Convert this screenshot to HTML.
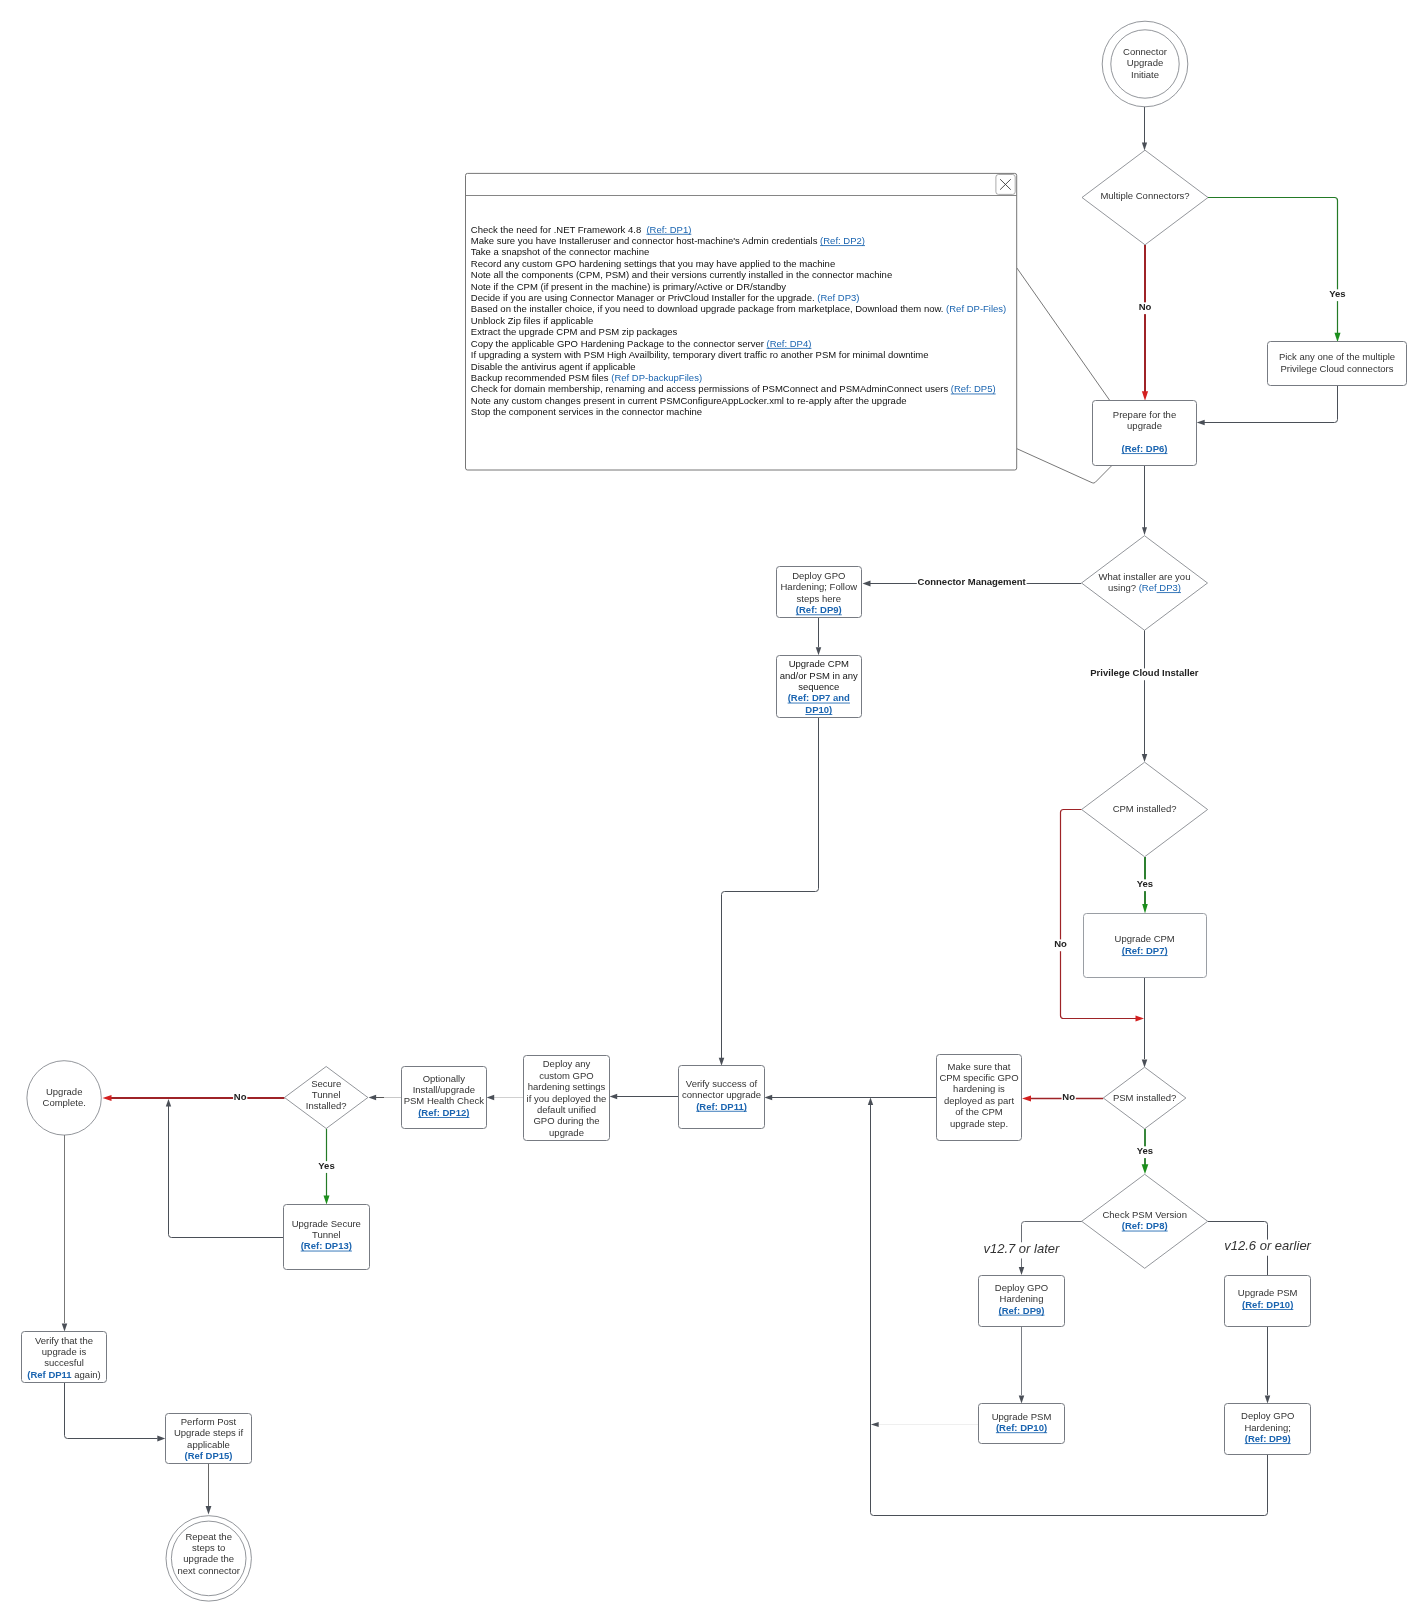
<!DOCTYPE html>
<html><head><meta charset="utf-8"><title>Connector Upgrade Flow</title>
<style>
html,body{margin:0;padding:0;background:#fff;}
body{width:1428px;height:1623px;overflow:hidden;}
*{text-decoration-skip-ink:none !important;text-decoration-skip:none;}
svg{display:block;font-family:"Liberation Sans",sans-serif;will-change:transform;}
</style></head><body>
<svg width="1428" height="1623" viewBox="0 0 1428 1623">
<rect width="1428" height="1623" fill="#fff"/>
<path d="M1144.50,106.80 L1144.50,143.00" fill="none" stroke="#4a4f57" stroke-width="1"/>
<polygon points="1144.50,150.60 1141.90,142.60 1147.10,142.60" fill="#4a4f57"/>
<path d="M1145.00,245.00 L1145.00,392.00" fill="none" stroke="#9e2327" stroke-width="2"/>
<polygon points="1145.00,400.80 1141.90,391.30 1148.10,391.30" fill="#d42020"/>
<rect x="1137.87" y="302.32" width="14.26" height="11.80" fill="#fff"/>
<text x="1145" y="309.92" text-anchor="middle" font-size="9.5" fill="#222" font-weight="bold">No</text>
<path d="M1207.80,197.50 L1334.50,197.50 Q1337.50,197.50 1337.50,200.50 L1337.50,334.00" fill="none" stroke="#237a26" stroke-width="1.2"/>
<polygon points="1337.50,342.20 1334.50,332.70 1340.50,332.70" fill="#1c8f1c"/>
<rect x="1328.41" y="289.32" width="17.98" height="11.80" fill="#fff"/>
<text x="1337.4" y="296.92" text-anchor="middle" font-size="9.5" fill="#222" font-weight="bold">Yes</text>
<path d="M1337.50,385.20 L1337.50,419.50 Q1337.50,422.50 1334.50,422.50 L1204.00,422.50" fill="none" stroke="#4a4f57" stroke-width="1"/>
<polygon points="1196.70,422.50 1204.70,419.75 1204.70,425.25" fill="#4a4f57"/>
<path d="M1144.50,465.00 L1144.50,528.00" fill="none" stroke="#4a4f57" stroke-width="1"/>
<polygon points="1144.50,535.30 1142.00,527.30 1147.00,527.30" fill="#4a4f57"/>
<path d="M1081.20,583.50 L869.00,583.50" fill="none" stroke="#4a4f57" stroke-width="1"/>
<polygon points="862.50,583.50 870.50,580.55 870.50,586.45" fill="#4a4f57"/>
<rect x="916.80" y="577.82" width="109.80" height="11.80" fill="#fff"/>
<text x="971.7" y="585.42" text-anchor="middle" font-size="9.5" fill="#222" font-weight="bold">Connector Management</text>
<path d="M1144.50,630.20 L1144.50,754.00" fill="none" stroke="#4a4f57" stroke-width="1"/>
<polygon points="1144.50,762.00 1141.75,754.00 1147.25,754.00" fill="#4a4f57"/>
<rect x="1089.49" y="668.42" width="109.82" height="11.80" fill="#fff"/>
<text x="1144.4" y="676.02" text-anchor="middle" font-size="9.5" fill="#222" font-weight="bold">Privilege Cloud Installer</text>
<path d="M818.50,617.60 L818.50,647.00" fill="none" stroke="#4a4f57" stroke-width="1"/>
<polygon points="818.50,655.30 815.75,647.30 821.25,647.30" fill="#4a4f57"/>
<path d="M818.50,717.20 L818.50,888.50 Q818.50,891.50 815.50,891.50 L724.50,891.50 Q721.50,891.50 721.50,894.50 L721.50,1058.00" fill="none" stroke="#4a4f57" stroke-width="1"/>
<polygon points="721.50,1065.70 718.75,1057.70 724.25,1057.70" fill="#4a4f57"/>
<path d="M1145.00,857.00 L1145.00,904.00" fill="none" stroke="#237a26" stroke-width="1.9"/>
<polygon points="1145.00,913.40 1142.20,903.90 1147.80,903.90" fill="#1c8f1c"/>
<rect x="1135.91" y="879.32" width="17.98" height="11.80" fill="#fff"/>
<text x="1144.9" y="886.92" text-anchor="middle" font-size="9.5" fill="#222" font-weight="bold">Yes</text>
<path d="M1081.60,809.50 L1063.50,809.50 Q1060.50,809.50 1060.50,812.50 L1060.50,1015.50 Q1060.50,1018.50 1063.50,1018.50 L1136.00,1018.50" fill="none" stroke="#9e2327" stroke-width="1.2"/>
<polygon points="1144.00,1018.50 1135.50,1015.40 1135.50,1021.60" fill="#d42020"/>
<rect x="1053.37" y="939.42" width="14.26" height="11.80" fill="#fff"/>
<text x="1060.5" y="947.02" text-anchor="middle" font-size="9.5" fill="#222" font-weight="bold">No</text>
<path d="M1144.50,977.00 L1144.50,1059.00" fill="none" stroke="#4a4f57" stroke-width="1"/>
<polygon points="1144.50,1067.40 1141.75,1059.40 1147.25,1059.40" fill="#4a4f57"/>
<path d="M1103.20,1098.50 L1030.00,1098.50" fill="none" stroke="#9e2327" stroke-width="1.3"/>
<polygon points="1022.00,1098.50 1031.00,1095.40 1031.00,1101.60" fill="#d42020"/>
<rect x="1061.57" y="1092.42" width="14.26" height="11.80" fill="#fff"/>
<text x="1068.7" y="1100.02" text-anchor="middle" font-size="9.5" fill="#222" font-weight="bold">No</text>
<path d="M1145.00,1128.70 L1145.00,1165.00" fill="none" stroke="#237a26" stroke-width="1.8"/>
<polygon points="1145.00,1174.00 1141.65,1164.20 1148.35,1164.20" fill="#1c8f1c"/>
<rect x="1135.91" y="1146.32" width="17.98" height="11.80" fill="#fff"/>
<text x="1144.9" y="1153.92" text-anchor="middle" font-size="9.5" fill="#222" font-weight="bold">Yes</text>
<path d="M1081.80,1221.50 L1024.50,1221.50 Q1021.50,1221.50 1021.50,1224.50 L1021.50,1267.00" fill="none" stroke="#6a6e75" stroke-width="1"/>
<polygon points="1021.50,1275.10 1018.75,1267.10 1024.25,1267.10" fill="#4a4f57"/>
<rect x="982.47" y="1242.28" width="77.87" height="16.15" fill="#fff"/>
<text x="1021.4" y="1252.68" text-anchor="middle" font-size="13" fill="#333" font-style="italic">v12.7 or later</text>
<path d="M1207.80,1221.50 L1264.50,1221.50 Q1267.50,1221.50 1267.50,1224.50 L1267.50,1275.10" fill="none" stroke="#4a4f57" stroke-width="1"/>
<rect x="1223.25" y="1239.58" width="88.70" height="16.15" fill="#fff"/>
<text x="1267.6" y="1249.98" text-anchor="middle" font-size="13" fill="#333" font-style="italic">v12.6 or earlier</text>
<path d="M1021.50,1326.20 L1021.50,1395.00" fill="none" stroke="#7a7e85" stroke-width="1"/>
<polygon points="1021.50,1403.40 1018.75,1395.40 1024.25,1395.40" fill="#4a4f57"/>
<path d="M1267.50,1326.20 L1267.50,1395.00" fill="none" stroke="#4a4f57" stroke-width="1"/>
<polygon points="1267.50,1403.40 1264.75,1395.40 1270.25,1395.40" fill="#4a4f57"/>
<path d="M1267.50,1454.50 L1267.50,1512.50 Q1267.50,1515.50 1264.50,1515.50 L873.50,1515.50 Q870.50,1515.50 870.50,1512.50 L870.50,1105.00" fill="none" stroke="#4a4f57" stroke-width="1"/>
<polygon points="870.50,1097.50 867.80,1105.10 873.20,1105.10" fill="#4a4f57"/>
<path d="M978.40,1424.50 L879.00,1424.50" fill="none" stroke="#efefef" stroke-width="1"/>
<polygon points="870.90,1424.50 878.70,1422.00 878.70,1427.00" fill="#4a4f57"/>
<path d="M936.20,1097.50 L772.00,1097.50" fill="none" stroke="#4a4f57" stroke-width="1"/>
<polygon points="764.40,1097.50 772.20,1094.75 772.20,1100.25" fill="#4a4f57"/>
<path d="M678.70,1096.50 L617.00,1096.50" fill="none" stroke="#4a4f57" stroke-width="1"/>
<polygon points="609.60,1096.50 617.20,1093.80 617.20,1099.20" fill="#4a4f57"/>
<path d="M523.40,1097.50 L494.00,1097.50" fill="none" stroke="#d0d0d0" stroke-width="1"/>
<polygon points="486.60,1097.50 494.20,1094.80 494.20,1100.20" fill="#4a4f57"/>
<path d="M401.10,1097.50 L376.00,1097.50" fill="none" stroke="#c8c8c8" stroke-width="1"/>
<path d="M384.00,1097.50 L374.00,1097.50" fill="none" stroke="#555" stroke-width="1"/>
<polygon points="368.50,1097.50 376.10,1094.80 376.10,1100.20" fill="#4a4f57"/>
<path d="M284.50,1098.00 L111.00,1098.00" fill="none" stroke="#9e2327" stroke-width="2"/>
<polygon points="102.50,1098.00 111.50,1094.90 111.50,1101.10" fill="#d42020"/>
<rect x="233.07" y="1092.42" width="14.26" height="11.80" fill="#fff"/>
<text x="240.2" y="1100.02" text-anchor="middle" font-size="9.5" fill="#222" font-weight="bold">No</text>
<path d="M326.50,1128.60 L326.50,1196.00" fill="none" stroke="#237a26" stroke-width="1.2"/>
<polygon points="326.50,1204.60 323.50,1195.60 329.50,1195.60" fill="#1c8f1c"/>
<rect x="317.51" y="1161.12" width="17.98" height="11.80" fill="#fff"/>
<text x="326.5" y="1168.72" text-anchor="middle" font-size="9.5" fill="#222" font-weight="bold">Yes</text>
<path d="M283.30,1237.50 L171.50,1237.50 Q168.50,1237.50 168.50,1234.50 L168.50,1106.00" fill="none" stroke="#4a4f57" stroke-width="1"/>
<polygon points="168.50,1099.00 165.80,1106.60 171.20,1106.60" fill="#4a4f57"/>
<path d="M64.50,1135.00 L64.50,1323.00" fill="none" stroke="#777" stroke-width="1"/>
<polygon points="64.50,1331.40 61.75,1323.40 67.25,1323.40" fill="#4a4f57"/>
<path d="M64.50,1382.40 L64.50,1435.50 Q64.50,1438.50 67.50,1438.50 L157.50,1438.50" fill="none" stroke="#4a4f57" stroke-width="1"/>
<polygon points="165.30,1438.50 157.30,1435.55 157.30,1441.45" fill="#4a4f57"/>
<path d="M208.50,1464.00 L208.50,1507.00" fill="none" stroke="#666" stroke-width="1"/>
<polygon points="208.50,1514.60 205.60,1506.10 211.40,1506.10" fill="#4a4f57"/>
<path d="M1016.90,268.00 L1109.80,400.50" fill="none" stroke="#555" stroke-width="0.8"/>
<path d="M1016.70,448.60 L1092.18,482.78 Q1094.00,483.60 1095.41,482.18 L1111.70,465.70" fill="none" stroke="#555" stroke-width="0.8"/>
<circle cx="1145" cy="64" r="42.8" fill="#fff" stroke="#777b82" stroke-width="0.8"/>
<circle cx="1145" cy="64" r="34.2" fill="#fff" stroke="#777b82" stroke-width="0.8"/>
<text x="1145" y="55.00" text-anchor="middle" font-size="9.5" fill="#333333" >Connector</text>
<text x="1145" y="66.40" text-anchor="middle" font-size="9.5" fill="#333333" >Upgrade</text>
<text x="1145" y="77.80" text-anchor="middle" font-size="9.5" fill="#333333" >Initiate</text>
<polygon points="1145,150.2 1208,197.5 1145,244.8 1082,197.5" fill="#fff" stroke="#777b82" stroke-width="0.8"/>
<text x="1145" y="199.40" text-anchor="middle" font-size="9.5" fill="#333333" >Multiple Connectors?</text>
<polygon points="1144.5,535.7 1207.5,583 1144.5,630.3 1081.5,583" fill="#fff" stroke="#777b82" stroke-width="0.8"/>
<text x="1144.5" y="579.60" text-anchor="middle" font-size="9.5" fill="#333333" >What installer are you</text>
<text x="1144.5" y="591.00" text-anchor="middle" font-size="9.5" fill="#333333" ><tspan>using? </tspan><tspan fill="#1a64b0">(Ref</tspan><tspan fill="#1a64b0"> DP3)</tspan></text>
<rect x="1156.65" y="592.20" width="24.28" height="0.85" fill="#1a64b0"/>
<polygon points="1144.6,762.2 1207.6,809.5 1144.6,856.8 1081.6,809.5" fill="#fff" stroke="#777b82" stroke-width="0.8"/>
<text x="1144.6" y="811.50" text-anchor="middle" font-size="9.5" fill="#333333" >CPM installed?</text>
<polygon points="1144.6,1067.2 1185.8999999999999,1098 1144.6,1128.8 1103.3,1098" fill="#fff" stroke="#777b82" stroke-width="0.8"/>
<text x="1144.6" y="1100.50" text-anchor="middle" font-size="9.5" fill="#333333" >PSM installed?</text>
<polygon points="1144.7,1174.3 1207.7,1221.3 1144.7,1268.3 1081.7,1221.3" fill="#fff" stroke="#777b82" stroke-width="0.8"/>
<text x="1144.7" y="1218.00" text-anchor="middle" font-size="9.5" fill="#333333" >Check PSM Version</text>
<text x="1144.7" y="1229.40" text-anchor="middle" font-size="9.5" fill="#333333" ><tspan fill="#1a64b0" font-weight="bold">(Ref: DP8)</tspan></text>
<rect x="1121.74" y="1230.60" width="45.92" height="0.85" fill="#1a64b0"/>
<polygon points="326.2,1066.5 367.9,1097.5 326.2,1128.5 284.5,1097.5" fill="#fff" stroke="#777b82" stroke-width="0.8"/>
<text x="326.2" y="1086.60" text-anchor="middle" font-size="9.5" fill="#333333" >Secure</text>
<text x="326.2" y="1098.00" text-anchor="middle" font-size="9.5" fill="#333333" >Tunnel</text>
<text x="326.2" y="1109.40" text-anchor="middle" font-size="9.5" fill="#333333" >Installed?</text>
<rect x="1267.5" y="341.5" width="139.00" height="44.00" rx="3" fill="#fff" stroke="#777b82" stroke-width="1"/>
<text x="1337" y="359.80" text-anchor="middle" font-size="9.5" fill="#333333" >Pick any one of the multiple</text>
<text x="1337" y="371.70" text-anchor="middle" font-size="9.5" fill="#333333" >Privilege Cloud connectors</text>
<rect x="1092.5" y="400.5" width="104.00" height="65.00" rx="3" fill="#fff" stroke="#777b82" stroke-width="1"/>
<text x="1144.5" y="417.60" text-anchor="middle" font-size="9.5" fill="#333333" >Prepare for the</text>
<text x="1144.5" y="429.00" text-anchor="middle" font-size="9.5" fill="#333333" >upgrade</text>
<text x="1144.5" y="452.00" text-anchor="middle" font-size="9.5" fill="#333333" ><tspan fill="#1a64b0" font-weight="bold">(Ref: DP6)</tspan></text>
<rect x="1121.54" y="453.20" width="45.92" height="0.85" fill="#1a64b0"/>
<rect x="776.5" y="566.5" width="85.00" height="51.00" rx="3" fill="#fff" stroke="#777b82" stroke-width="1"/>
<text x="818.8" y="579.00" text-anchor="middle" font-size="9.5" fill="#333333" >Deploy GPO</text>
<text x="818.8" y="590.40" text-anchor="middle" font-size="9.5" fill="#333333" >Hardening; Follow</text>
<text x="818.8" y="601.80" text-anchor="middle" font-size="9.5" fill="#333333" >steps here</text>
<text x="818.8" y="613.20" text-anchor="middle" font-size="9.5" fill="#333333" ><tspan fill="#1a64b0" font-weight="bold">(Ref: DP9)</tspan></text>
<rect x="795.84" y="614.40" width="45.92" height="0.85" fill="#1a64b0"/>
<rect x="776.5" y="655.5" width="85.00" height="62.00" rx="3" fill="#fff" stroke="#777b82" stroke-width="1"/>
<text x="818.8" y="667.20" text-anchor="middle" font-size="9.5" fill="#151515" >Upgrade CPM</text>
<text x="818.8" y="678.60" text-anchor="middle" font-size="9.5" fill="#151515" >and/or PSM in any</text>
<text x="818.8" y="690.00" text-anchor="middle" font-size="9.5" fill="#151515" >sequence</text>
<text x="818.8" y="701.40" text-anchor="middle" font-size="9.5" fill="#151515" ><tspan fill="#1a64b0" font-weight="bold">(Ref: DP7 and</tspan></text>
<rect x="787.66" y="702.60" width="62.29" height="0.85" fill="#1a64b0"/>
<text x="818.8" y="712.80" text-anchor="middle" font-size="9.5" fill="#151515" ><tspan fill="#1a64b0" font-weight="bold">DP10)</tspan></text>
<rect x="805.34" y="714.00" width="26.93" height="0.85" fill="#1a64b0"/>
<rect x="1083.5" y="913.5" width="123.00" height="64.00" rx="3" fill="#fff" stroke="#9a9ea4" stroke-width="1"/>
<text x="1144.7" y="941.80" text-anchor="middle" font-size="9.5" fill="#333333" >Upgrade CPM</text>
<text x="1144.7" y="954.00" text-anchor="middle" font-size="9.5" fill="#333333" ><tspan fill="#1a64b0" font-weight="bold">(Ref: DP7)</tspan></text>
<rect x="1121.74" y="955.20" width="45.92" height="0.85" fill="#1a64b0"/>
<rect x="936.5" y="1054.5" width="85.00" height="86.00" rx="3" fill="#fff" stroke="#777b82" stroke-width="1"/>
<text x="979" y="1069.50" text-anchor="middle" font-size="9.5" fill="#333333" >Make sure that</text>
<text x="979" y="1080.90" text-anchor="middle" font-size="9.5" fill="#333333" >CPM specific GPO</text>
<text x="979" y="1092.30" text-anchor="middle" font-size="9.5" fill="#333333" >hardening is</text>
<text x="979" y="1103.70" text-anchor="middle" font-size="9.5" fill="#333333" >deployed as part</text>
<text x="979" y="1115.10" text-anchor="middle" font-size="9.5" fill="#333333" >of the CPM</text>
<text x="979" y="1126.50" text-anchor="middle" font-size="9.5" fill="#333333" >upgrade step.</text>
<rect x="978.5" y="1275.5" width="86.00" height="51.00" rx="3" fill="#fff" stroke="#777b82" stroke-width="1"/>
<text x="1021.5" y="1290.70" text-anchor="middle" font-size="9.5" fill="#333333" >Deploy GPO</text>
<text x="1021.5" y="1302.10" text-anchor="middle" font-size="9.5" fill="#333333" >Hardening</text>
<text x="1021.5" y="1313.50" text-anchor="middle" font-size="9.5" fill="#333333" ><tspan fill="#1a64b0" font-weight="bold">(Ref: DP9)</tspan></text>
<rect x="998.54" y="1314.70" width="45.92" height="0.85" fill="#1a64b0"/>
<rect x="978.5" y="1403.5" width="86.00" height="40.00" rx="3" fill="#fff" stroke="#777b82" stroke-width="1"/>
<text x="1021.5" y="1419.70" text-anchor="middle" font-size="9.5" fill="#333333" >Upgrade PSM</text>
<text x="1021.5" y="1431.10" text-anchor="middle" font-size="9.5" fill="#333333" ><tspan fill="#1a64b0" font-weight="bold">(Ref: DP10)</tspan></text>
<rect x="995.90" y="1432.30" width="51.20" height="0.85" fill="#1a64b0"/>
<rect x="1224.5" y="1275.5" width="86.00" height="51.00" rx="3" fill="#fff" stroke="#777b82" stroke-width="1"/>
<text x="1267.7" y="1296.40" text-anchor="middle" font-size="9.5" fill="#333333" >Upgrade PSM</text>
<text x="1267.7" y="1307.80" text-anchor="middle" font-size="9.5" fill="#333333" ><tspan fill="#1a64b0" font-weight="bold">(Ref: DP10)</tspan></text>
<rect x="1242.10" y="1309.00" width="51.20" height="0.85" fill="#1a64b0"/>
<rect x="1224.5" y="1403.5" width="86.00" height="51.00" rx="3" fill="#fff" stroke="#777b82" stroke-width="1"/>
<text x="1267.7" y="1419.20" text-anchor="middle" font-size="9.5" fill="#333333" >Deploy GPO</text>
<text x="1267.7" y="1430.60" text-anchor="middle" font-size="9.5" fill="#333333" >Hardening;</text>
<text x="1267.7" y="1442.00" text-anchor="middle" font-size="9.5" fill="#333333" ><tspan fill="#1a64b0" font-weight="bold">(Ref: DP9)</tspan></text>
<rect x="1244.74" y="1443.20" width="45.92" height="0.85" fill="#1a64b0"/>
<rect x="678.5" y="1065.5" width="86.00" height="63.00" rx="3" fill="#fff" stroke="#777b82" stroke-width="1"/>
<text x="721.5" y="1086.80" text-anchor="middle" font-size="9.5" fill="#333333" >Verify success of</text>
<text x="721.5" y="1098.20" text-anchor="middle" font-size="9.5" fill="#333333" >connector upgrade</text>
<text x="721.5" y="1109.60" text-anchor="middle" font-size="9.5" fill="#333333" ><tspan fill="#1a64b0" font-weight="bold">(Ref: DP11)</tspan></text>
<rect x="696.16" y="1110.80" width="50.68" height="0.85" fill="#1a64b0"/>
<rect x="523.5" y="1055.5" width="86.00" height="85.00" rx="3" fill="#fff" stroke="#777b82" stroke-width="1"/>
<text x="566.5" y="1067.30" text-anchor="middle" font-size="9.5" fill="#333333" >Deploy any</text>
<text x="566.5" y="1078.70" text-anchor="middle" font-size="9.5" fill="#333333" >custom GPO</text>
<text x="566.5" y="1090.10" text-anchor="middle" font-size="9.5" fill="#333333" >hardening settings</text>
<text x="566.5" y="1101.50" text-anchor="middle" font-size="9.5" fill="#333333" >if you deployed the</text>
<text x="566.5" y="1112.90" text-anchor="middle" font-size="9.5" fill="#333333" >default unified</text>
<text x="566.5" y="1124.30" text-anchor="middle" font-size="9.5" fill="#333333" >GPO during the</text>
<text x="566.5" y="1135.70" text-anchor="middle" font-size="9.5" fill="#333333" >upgrade</text>
<rect x="401.5" y="1066.5" width="85.00" height="62.00" rx="3" fill="#fff" stroke="#777b82" stroke-width="1"/>
<text x="443.8" y="1081.60" text-anchor="middle" font-size="9.5" fill="#333333" >Optionally</text>
<text x="443.8" y="1093.00" text-anchor="middle" font-size="9.5" fill="#333333" >Install/upgrade</text>
<text x="443.8" y="1104.40" text-anchor="middle" font-size="9.5" fill="#333333" >PSM Health Check</text>
<text x="443.8" y="1115.80" text-anchor="middle" font-size="9.5" fill="#333333" ><tspan fill="#1a64b0" font-weight="bold">(Ref: DP12)</tspan></text>
<rect x="418.20" y="1117.00" width="51.20" height="0.85" fill="#1a64b0"/>
<rect x="283.5" y="1204.5" width="86.00" height="65.00" rx="3" fill="#fff" stroke="#777b82" stroke-width="1"/>
<text x="326.3" y="1226.60" text-anchor="middle" font-size="9.5" fill="#333333" >Upgrade Secure</text>
<text x="326.3" y="1238.00" text-anchor="middle" font-size="9.5" fill="#333333" >Tunnel</text>
<text x="326.3" y="1249.40" text-anchor="middle" font-size="9.5" fill="#333333" ><tspan fill="#1a64b0" font-weight="bold">(Ref: DP13)</tspan></text>
<rect x="300.70" y="1250.60" width="51.20" height="0.85" fill="#1a64b0"/>
<rect x="21.5" y="1331.5" width="85.00" height="51.00" rx="3" fill="#fff" stroke="#777b82" stroke-width="1"/>
<text x="64" y="1343.50" text-anchor="middle" font-size="9.5" fill="#333333" >Verify that the</text>
<text x="64" y="1354.90" text-anchor="middle" font-size="9.5" fill="#333333" >upgrade is</text>
<text x="64" y="1366.30" text-anchor="middle" font-size="9.5" fill="#333333" >succesful</text>
<text x="64" y="1377.70" text-anchor="middle" font-size="9.5" fill="#333333" ><tspan fill="#1a64b0" font-weight="bold">(Ref DP11</tspan><tspan> again)</tspan></text>
<rect x="165.5" y="1413.5" width="86.00" height="50.00" rx="3" fill="#fff" stroke="#777b82" stroke-width="1"/>
<text x="208.5" y="1424.90" text-anchor="middle" font-size="9.5" fill="#333333" >Perform Post</text>
<text x="208.5" y="1436.30" text-anchor="middle" font-size="9.5" fill="#333333" >Upgrade steps if</text>
<text x="208.5" y="1447.70" text-anchor="middle" font-size="9.5" fill="#333333" >applicable</text>
<text x="208.5" y="1459.10" text-anchor="middle" font-size="9.5" fill="#333333" ><tspan fill="#1a64b0" font-weight="bold">(Ref DP15)</tspan></text>
<circle cx="64.1" cy="1097.9" r="37.2" fill="#fff" stroke="#777b82" stroke-width="0.8"/>
<text x="64.2" y="1095.00" text-anchor="middle" font-size="9.5" fill="#333333" >Upgrade</text>
<text x="64.2" y="1106.40" text-anchor="middle" font-size="9.5" fill="#333333" >Complete.</text>
<circle cx="208.7" cy="1558.4" r="42.7" fill="#fff" stroke="#777b82" stroke-width="0.8"/>
<circle cx="208.7" cy="1558.4" r="37.3" fill="#fff" stroke="#777b82" stroke-width="0.8"/>
<text x="208.7" y="1539.60" text-anchor="middle" font-size="9.5" fill="#333333" >Repeat the</text>
<text x="208.7" y="1551.00" text-anchor="middle" font-size="9.5" fill="#333333" >steps to</text>
<text x="208.7" y="1562.40" text-anchor="middle" font-size="9.5" fill="#333333" >upgrade the</text>
<text x="208.7" y="1573.80" text-anchor="middle" font-size="9.5" fill="#333333" >next connector</text>
<rect x="465.5" y="173.4" width="551.2" height="296.6" rx="2" fill="#fff" stroke="#666" stroke-width="0.9"/>
<line x1="465.5" y1="195.5" x2="1016.7" y2="195.5" stroke="#777" stroke-width="0.9"/>
<rect x="995.9" y="174.5" width="19.3" height="19.9" rx="2.5" fill="#fff" stroke="#888" stroke-width="0.7"/>
<path d="M1000.1,179.2 L1010.8,189.7 M1010.8,179.2 L1000.1,189.7" stroke="#3a3a3a" stroke-width="0.9"/>
<text x="470.8" y="232.60" text-anchor="start" font-size="9.5" fill="#111" xml:space="preserve"><tspan>Check the need for .NET Framework 4.8  </tspan><tspan fill="#1a64b0">(Ref: DP1)</tspan></text>
<rect x="646.45" y="233.80" width="44.87" height="0.85" fill="#1a64b0"/>
<text x="470.8" y="244.01" text-anchor="start" font-size="9.5" fill="#111" xml:space="preserve"><tspan>Make sure you have Installeruser and connector host-machine's Admin credentials </tspan><tspan fill="#1a64b0">(Ref: DP2)</tspan></text>
<rect x="820.08" y="245.21" width="44.87" height="0.85" fill="#1a64b0"/>
<text x="470.8" y="255.42" text-anchor="start" font-size="9.5" fill="#111" xml:space="preserve">Take a snapshot of the connector machine</text>
<text x="470.8" y="266.83" text-anchor="start" font-size="9.5" fill="#111" xml:space="preserve">Record any custom GPO hardening settings that you may have applied to the machine</text>
<text x="470.8" y="278.24" text-anchor="start" font-size="9.5" fill="#111" xml:space="preserve">Note all the components (CPM, PSM) and their versions currently installed in the connector machine</text>
<text x="470.8" y="289.65" text-anchor="start" font-size="9.5" fill="#111" xml:space="preserve">Note if the CPM (if present in the machine) is primary/Active or DR/standby</text>
<text x="470.8" y="301.06" text-anchor="start" font-size="9.5" fill="#111" xml:space="preserve"><tspan>Decide if you are using Connector Manager or PrivCloud Installer for the upgrade. </tspan><tspan fill="#1a64b0">(Ref DP3)</tspan></text>
<text x="470.8" y="312.47" text-anchor="start" font-size="9.5" fill="#111" xml:space="preserve"><tspan>Based on the installer choice, if you need to download upgrade package from marketplace, Download them now. </tspan><tspan fill="#1a64b0">(Ref DP-Files)</tspan></text>
<text x="470.8" y="323.88" text-anchor="start" font-size="9.5" fill="#111" xml:space="preserve">Unblock Zip files if applicable</text>
<text x="470.8" y="335.29" text-anchor="start" font-size="9.5" fill="#111" xml:space="preserve">Extract the upgrade CPM and PSM zip packages</text>
<text x="470.8" y="346.70" text-anchor="start" font-size="9.5" fill="#111" xml:space="preserve"><tspan>Copy the applicable GPO Hardening Package to the connector server </tspan><tspan fill="#1a64b0">(Ref: DP4)</tspan></text>
<rect x="766.53" y="347.90" width="44.87" height="0.85" fill="#1a64b0"/>
<text x="470.8" y="358.11" text-anchor="start" font-size="9.5" fill="#111" xml:space="preserve">If upgrading a system with PSM High Availbility, temporary divert traffic ro another PSM for minimal downtime</text>
<text x="470.8" y="369.52" text-anchor="start" font-size="9.5" fill="#111" xml:space="preserve">Disable the antivirus agent if applicable</text>
<text x="470.8" y="380.93" text-anchor="start" font-size="9.5" fill="#111" xml:space="preserve"><tspan>Backup recommended PSM files </tspan><tspan fill="#1a64b0">(Ref DP-backupFiles)</tspan></text>
<text x="470.8" y="392.34" text-anchor="start" font-size="9.5" fill="#111" xml:space="preserve"><tspan>Check for domain membership, renaming and access permissions of PSMConnect and PSMAdminConnect users </tspan><tspan fill="#1a64b0">(Ref: DP5)</tspan></text>
<rect x="950.78" y="393.54" width="44.87" height="0.85" fill="#1a64b0"/>
<text x="470.8" y="403.75" text-anchor="start" font-size="9.5" fill="#111" xml:space="preserve">Note any custom changes present in current PSMConfigureAppLocker.xml to re-apply after the upgrade</text>
<text x="470.8" y="415.16" text-anchor="start" font-size="9.5" fill="#111" xml:space="preserve">Stop the component services in the connector machine</text>
</svg>
</body></html>
